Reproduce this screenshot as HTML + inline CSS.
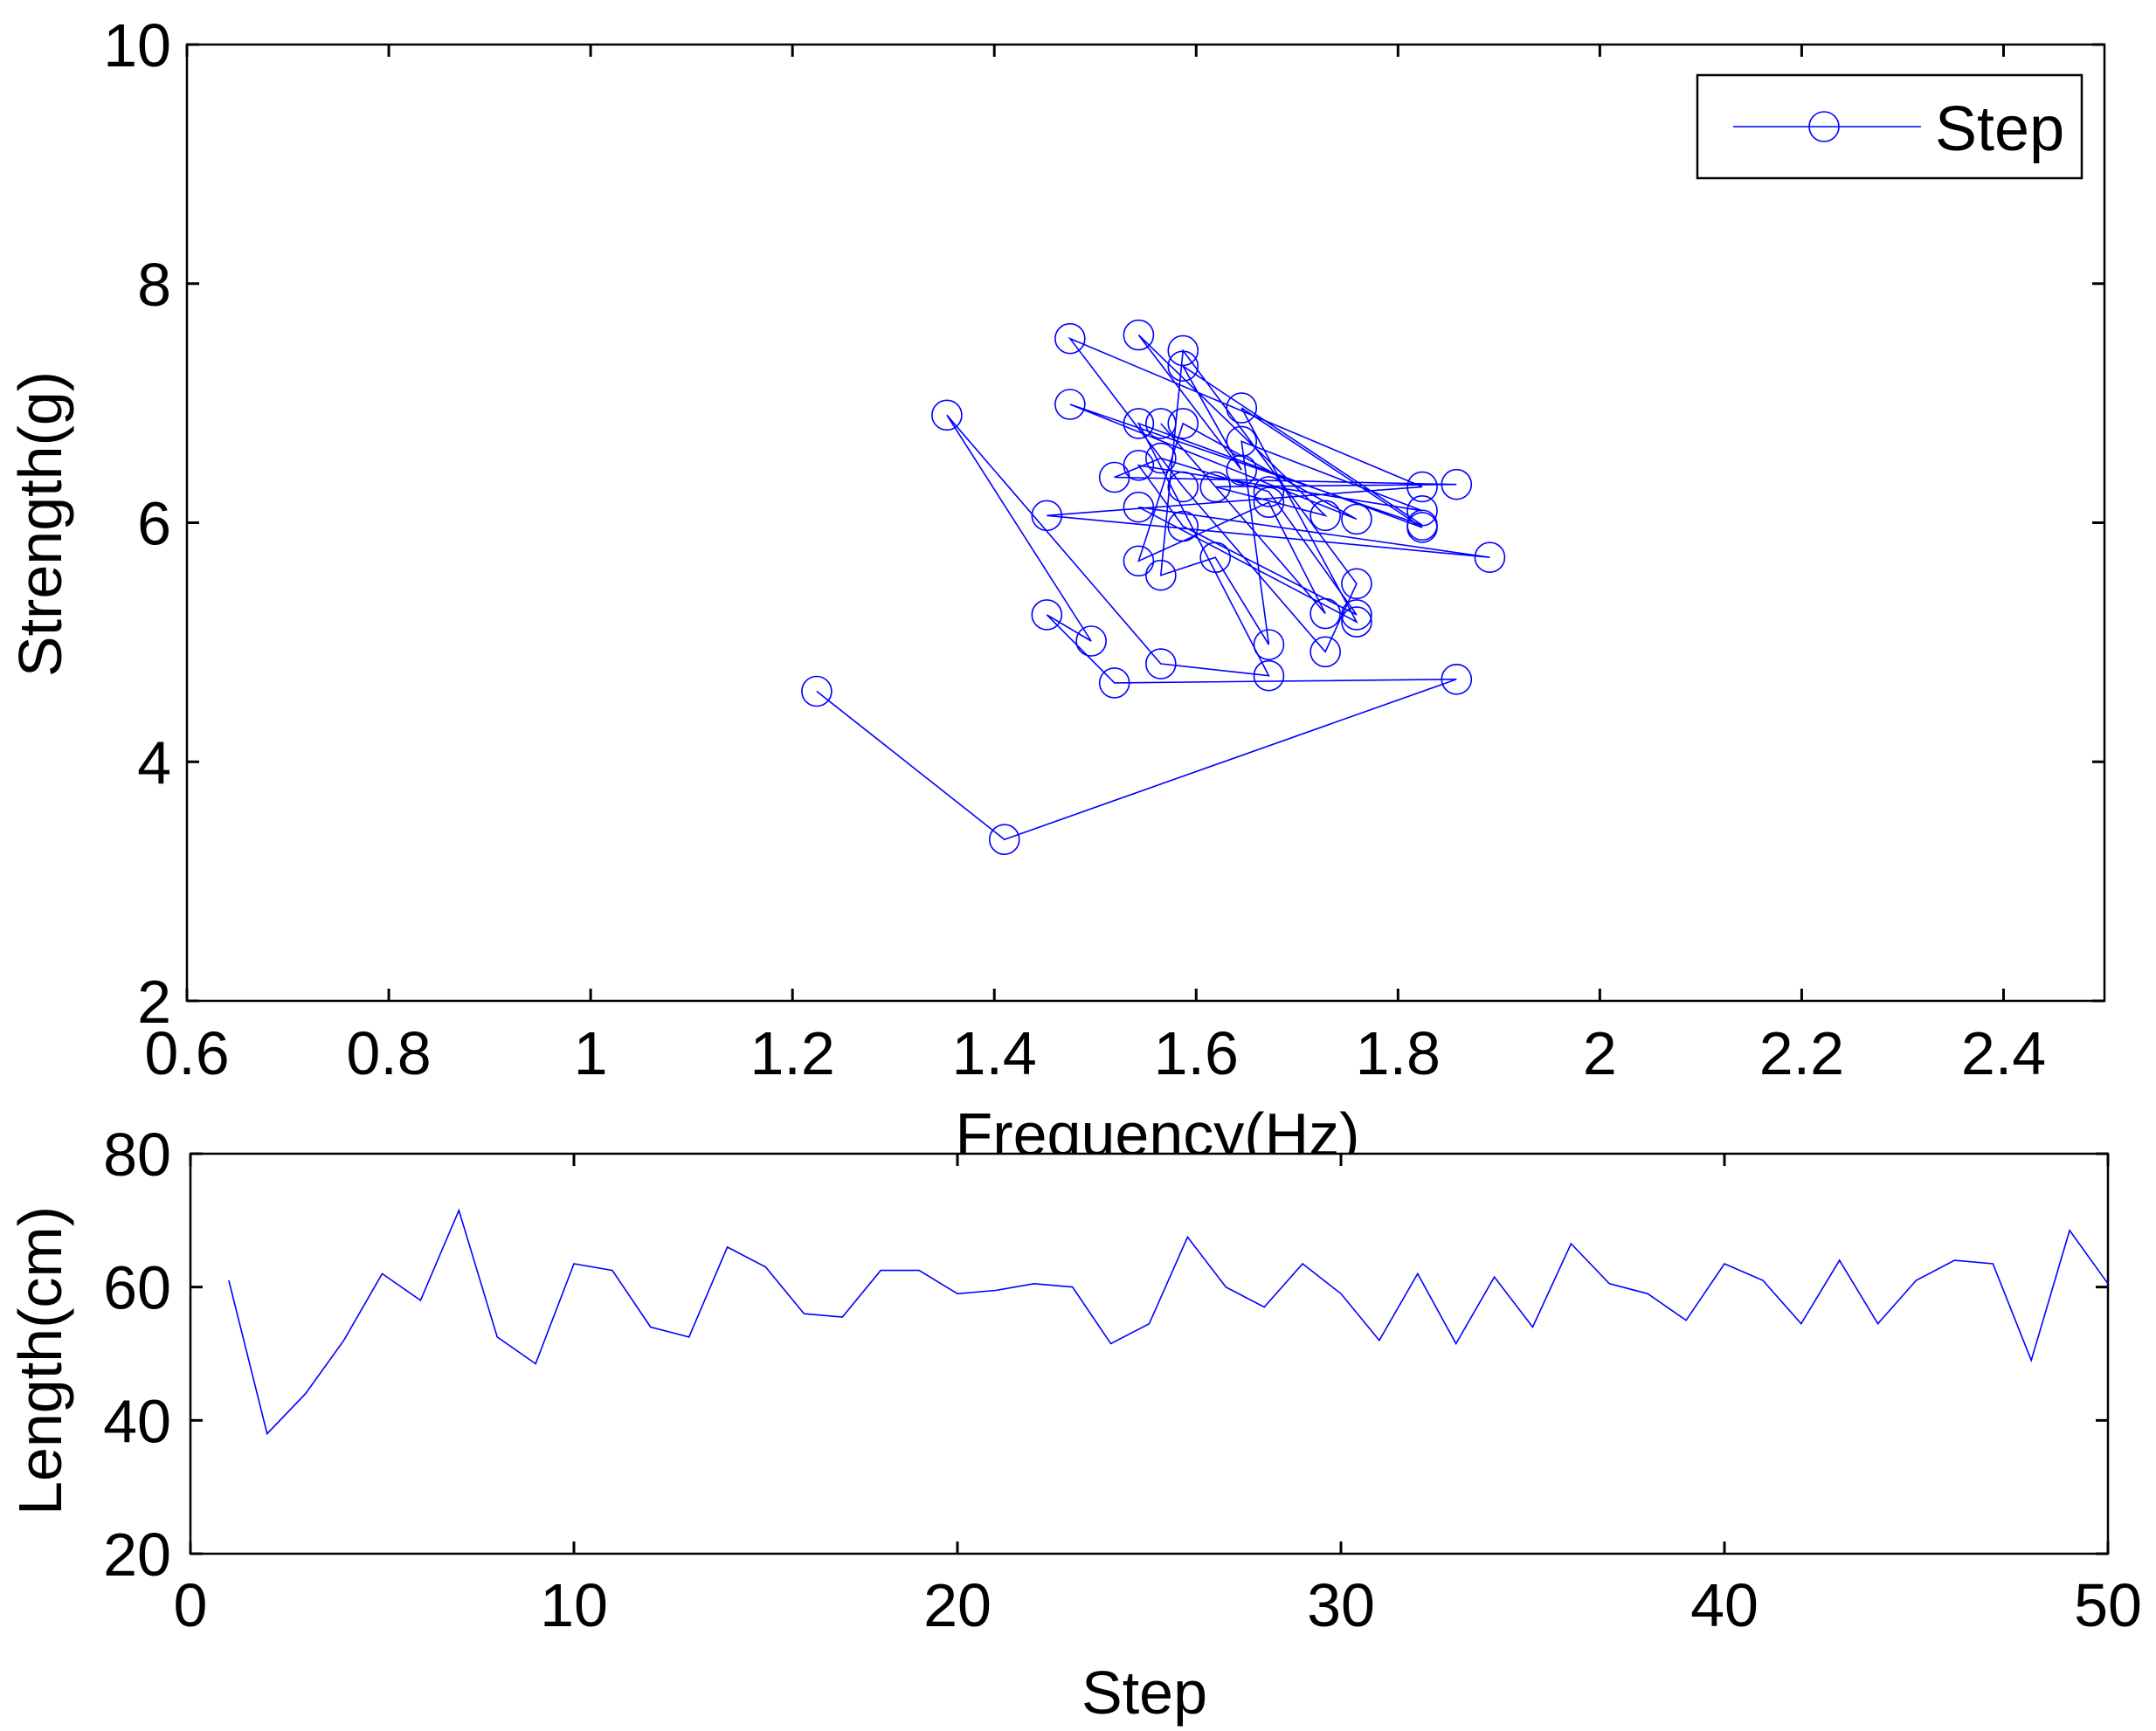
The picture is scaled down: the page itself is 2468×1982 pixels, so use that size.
<!DOCTYPE html>
<html><head><meta charset="utf-8"><style>
html,body{margin:0;padding:0;background:#fff;}
svg{display:block;}
text{font-family:"Liberation Sans",Arial,sans-serif;fill:#000;}
</style></head><body>
<svg id="fig" width="2468" height="1982" viewBox="0 0 2468 1982" xmlns="http://www.w3.org/2000/svg">
<rect x="0" y="0" width="2468" height="1982" fill="#fff"/>
<g id="topChart"></g>
<g id="botChart"></g>
</svg>
<script>
// Top chart data (frequency Hz vs strength g), in step order
const freqValues = [1.224,1.410,1.858,1.519,1.452,1.496,1.353,1.565,1.672,1.543,1.824,1.645,1.759,1.543,1.891,1.452,1.824,1.475,1.587,1.728,1.759,1.587,1.565,1.619,1.672,1.645,1.824,1.543,1.587,1.759,1.672,1.565,1.519,1.858,1.619,1.728,1.543,1.645,1.587,1.824,1.475,1.759,1.587,1.543,1.672,1.728,1.565];
const strengthValues = [4.59,3.35,4.69,4.66,5.23,5.01,6.90,4.82,4.72,6.83,5.96,6.96,5.17,6.13,5.71,6.06,6.30,7.54,6.30,4.92,5.49,7.44,5.56,5.71,4.98,6.68,6.10,6.48,5.97,5.23,6.26,6.54,6.38,6.32,6.30,6.06,7.57,6.44,7.31,5.98,6.99,6.03,6.83,5.68,6.17,5.24,6.83];
const xTickLabels = ["0.6","0.8","1","1.2","1.4","1.6","1.8","2","2.2","2.4"];
const xTickValues = [0.6,0.8,1.0,1.2,1.4,1.6,1.8,2.0,2.2,2.4];
const yTickValues = [2,4,6,8,10];
const yTickLabels = ["2","4","6","8","10"];
// Bottom chart data (step vs length cm)
const stepValues = [1,2,3,4,5,6,7,8,9,10,11,12,13,14,15,16,17,18,19,20,21,22,23,24,25,26,27,28,29,30,31,32,33,34,35,36,37,38,39,40,41,42,43,44,45,46,47,48,49,50];
const lengthValues = [61,38,44,52,62,58,71.5,52.5,48.5,63.5,62.5,54,52.5,66,63,56,55.5,62.5,62.5,59,59.5,60.5,60,51.5,54.5,67.5,60,57,63.5,59,52,62,51.5,61.5,54,66.5,60.5,59,55,63.5,61,54.5,64,54.5,61,64,63.5,49,68.5,60.5];
const bxTickValues = [0,10,20,30,40,50];
const bxTickLabels = ["0","10","20","30","40","50"];
const byTickValues = [20,40,60,80];
const byTickLabels = ["20","40","60","80"];

const NS="http://www.w3.org/2000/svg";
function mk(tag, attrs, parent){const e=document.createElementNS(NS,tag);for(const k in attrs)e.setAttribute(k,attrs[k]);parent.appendChild(e);return e;}

// top axes
const T={l:214,r:2409,t:51,b:1146,x0:0.6,x1:2.5,y0:2,y1:10};
const tx=v=>T.l+(v-T.x0)/(T.x1-T.x0)*(T.r-T.l);
const ty=v=>T.b-(v-T.y0)/(T.y1-T.y0)*(T.b-T.t);
const topG=document.getElementById('topChart');
const tFrame=mk('rect',{x:T.l,y:T.t,width:T.r-T.l,height:T.b-T.t,fill:'#fff',stroke:'#000','stroke-width':2.5},topG);


xTickValues.forEach((v,i)=>{
  const x=tx(v);
  const t1=mk('line',{x1:x,y1:T.b,x2:x,y2:T.b-14,stroke:'#000','stroke-width':3},topG);
  
  
  const t2=mk('line',{x1:x,y1:T.t,x2:x,y2:T.t+14,stroke:'#000','stroke-width':3},topG);
  
  
  const lb=mk('text',{x:x,y:1230,'font-size':70,'text-anchor':'middle'},topG);
  lb.textContent=xTickLabels[i];
  
  
});
yTickValues.forEach((v,i)=>{
  const y=ty(v);
  const t1=mk('line',{x1:T.l,y1:y,x2:T.l+14,y2:y,stroke:'#000','stroke-width':3},topG);
  
  
  const t2=mk('line',{x1:T.r,y1:y,x2:T.r-14,y2:y,stroke:'#000','stroke-width':3},topG);
  
  
  const lb=mk('text',{x:196,y:y+25,'font-size':70,'text-anchor':'end'},topG);
  lb.textContent=yTickLabels[i];
  
  
});
const xt=mk('text',{x:1325,y:1323,'font-size':70,'text-anchor':'middle'},topG);
xt.textContent='Frequency(Hz)';


const yt=mk('text',{x:0,y:0,'font-size':70,'text-anchor':'middle',transform:'translate(70,600) rotate(-90)'},topG);
yt.textContent='Strength(g)';


const pts=freqValues.map((f,i)=>tx(f).toFixed(1)+','+ty(strengthValues[i]).toFixed(1)).join(' ');
const pl=mk('polyline',{points:pts,fill:'none',stroke:'#0000ff','stroke-width':1.6},topG);


freqValues.forEach((f,i)=>{
  const c=mk('circle',{cx:tx(f),cy:ty(strengthValues[i]),r:17,fill:'none',stroke:'#0000ff','stroke-width':1.6},topG);
  
  
});
// legend
const lg=mk('g',{},topG);


mk('rect',{x:1943,y:86,width:440,height:118,fill:'#fff',stroke:'#000','stroke-width':2.5},lg);
const ll=mk('line',{x1:1984,y1:145,x2:2199,y2:145,stroke:'#0000ff','stroke-width':1.6},lg);


const lc=mk('circle',{cx:2088,cy:145,r:17,fill:'none',stroke:'#0000ff','stroke-width':1.6},lg);


const lt=mk('text',{x:2215,y:172,'font-size':72},lg);
lt.textContent='Step';



// bottom axes
const B={l:218,r:2413,t:1321,b:1779,x0:0,x1:50,y0:20,y1:80};
const bx=v=>B.l+(v-B.x0)/(B.x1-B.x0)*(B.r-B.l);
const by=v=>B.b-(v-B.y0)/(B.y1-B.y0)*(B.b-B.t);
const botG=document.getElementById('botChart');
const bFrame=mk('rect',{x:B.l,y:B.t,width:B.r-B.l,height:B.b-B.t,fill:'#fff',stroke:'#000','stroke-width':2.5},botG);


bxTickValues.forEach((v,i)=>{
  const x=bx(v);
  const t1=mk('line',{x1:x,y1:B.b,x2:x,y2:B.b-14,stroke:'#000','stroke-width':3},botG);
  
  
  const t2=mk('line',{x1:x,y1:B.t,x2:x,y2:B.t+14,stroke:'#000','stroke-width':3},botG);
  
  
  const lb=mk('text',{x:x,y:1862,'font-size':70,'text-anchor':'middle'},botG);
  lb.textContent=bxTickLabels[i];
  
  
});
byTickValues.forEach((v,i)=>{
  const y=by(v);
  const t1=mk('line',{x1:B.l,y1:y,x2:B.l+14,y2:y,stroke:'#000','stroke-width':3},botG);
  
  
  const t2=mk('line',{x1:B.r,y1:y,x2:B.r-14,y2:y,stroke:'#000','stroke-width':3},botG);
  
  
  const lb=mk('text',{x:196,y:y+25,'font-size':70,'text-anchor':'end'},botG);
  lb.textContent=byTickLabels[i];
  
  
});
const bxt=mk('text',{x:1310,y:1962,'font-size':70,'text-anchor':'middle'},botG);
bxt.textContent='Step';


const byt=mk('text',{x:0,y:0,'font-size':70,'text-anchor':'middle',transform:'translate(70,1558) rotate(-90)'},botG);
byt.textContent='Length(cm)';


const bpts=stepValues.map((s,i)=>bx(s).toFixed(1)+','+by(lengthValues[i]).toFixed(1)).join(' ');
const bl=mk('polyline',{points:bpts,fill:'none',stroke:'#0000ff','stroke-width':1.6},botG);


</script>
</body></html>
